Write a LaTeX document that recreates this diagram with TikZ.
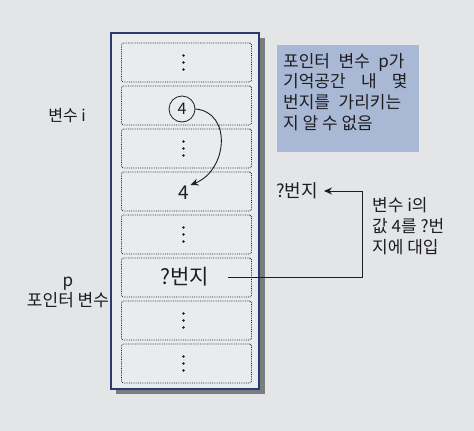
\documentclass[tikz,border=0pt]{standalone}
\usepackage{fontspec}
\setmainfont{Noto Sans CJK KR}
\usetikzlibrary{arrows.meta,calc}
\definecolor{bg}{HTML}{E3E5E7}
\definecolor{inner}{HTML}{E9ECEF}
\definecolor{navy}{HTML}{2A3A72}
\definecolor{note}{HTML}{A9B9D5}
\definecolor{shadowgray}{HTML}{7A7C80}
\definecolor{ink}{HTML}{1E1E22}
\tikzset{
  cell/.style={draw=ink, densely dotted, line width=0.8pt, rounded corners=2pt, minimum width=130pt, minimum height=39pt, inner sep=0pt},
  dotmark/.style={fill=ink, circle, inner sep=0pt, minimum size=2.6pt},
  lbl/.style={text=ink, font=\fontsize{16}{19}\selectfont, inner sep=0pt, align=center},
  celltext/.style={text=ink, font=\fontsize{19}{22}\selectfont, inner sep=1pt},
  conn/.style={draw=ink, line width=0.9pt, -{Stealth[length=8pt,width=7pt]}}
}
\begin{document}
\begin{tikzpicture}[x=1pt,y=-1pt]
\useasboundingbox[fill=bg] (0,0) rectangle (474,431);
% shadow and outer box
\fill[shadowgray] (116,38) rectangle (265,394);
\draw[navy, line width=2pt, fill=inner] (111,33) rectangle (259,389);
% cells
\foreach \i in {1,...,8}{
  \node[cell] (c\i) at (186.5,{62.5+43*(\i-1)}) {};
}
% vertical dots
\foreach \i in {1,3,5,7,8}{
  \node[dotmark] at ($(c\i.center)+(-3,-7)$) {};
  \node[dotmark] at ($(c\i.center)+(-3,0)$) {};
  \node[dotmark] at ($(c\i.center)+(-3,7)$) {};
}
% contents
\node[draw=ink, circle, line width=0.8pt, minimum size=26pt, inner sep=0pt, text=ink,
      font=\fontsize{16}{18}\selectfont] (circ) at (182,109) {4};
\node[celltext] (four) at (184,193) {4};
\node[celltext, font=\fontsize{21}{24}\selectfont] (q) at (185,277) {?번지};
% addresses and notes
\node[lbl, font=\fontsize{18}{20}\selectfont] (addr) at (297,191) {?번지};
\node[lbl] (vi) at (67,116) {변수 i};
\node[lbl, align=center, font=\fontsize{17}{20}\selectfont] (pv) at (68,292) {p\\포인터 변수};
\node[lbl, align=left, anchor=north west, font=\fontsize{17}{21}\selectfont] (assign) at (372,197)
  {변수 i의\\값 4를 ?번\\지에 대입};
\node[fill=note, anchor=north west, minimum width=142pt, minimum height=107pt, inner sep=0pt] (note) at (277,45) {};
\node[text=ink, anchor=north west, align=left, inner sep=0pt, font=\fontsize{17}{20.7}\selectfont] (notetext) at (283,53)
  {포인터\hspace{0.5em}변수\hspace{0.5em}p가\\기억공간\hspace{0.9em}내\hspace{0.9em}몇\\번지를\hspace{0.5em}가리키는\\지 알 수 없음};
% connectors
\draw[conn] (circ.east) .. controls (232,112) and (228,170) .. (four.north east);
\coordinate (corner1) at (362,277);
\coordinate (corner2) at (362,191);
\draw[conn] ($(q.east)+(18,0)$) -- (corner1) -- (corner2) -- ($(addr.east)+(6,0)$);
\end{tikzpicture}
\end{document}
